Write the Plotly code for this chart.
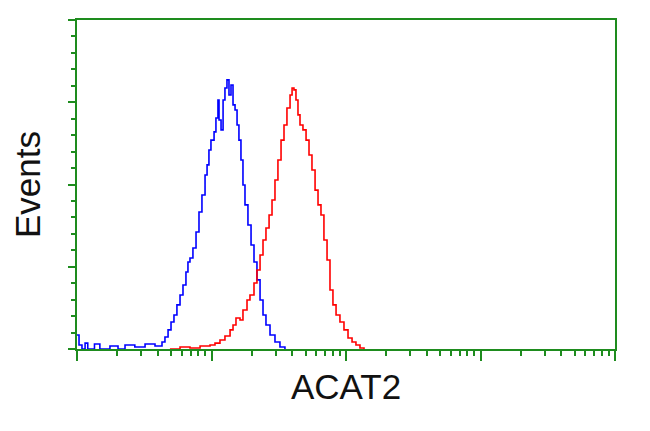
import plotly.graph_objects as go

# intensity in log10 decades, counts per channel
blue_log = [0.00, 0.015, 0.037, 0.06, 0.08, 0.13, 0.17, 0.245, 0.305, 0.357, 0.43, 0.506, 0.58, 0.632,
            0.654, 0.677, 0.699, 0.721, 0.743, 0.766, 0.788, 0.81, 0.825, 0.84, 0.862, 0.885, 0.907,
            0.929, 0.952, 0.967, 0.981, 0.996, 1.019, 1.033, 1.048, 1.056, 1.071, 1.086, 1.1, 1.115,
            1.13, 1.145, 1.16, 1.175, 1.19, 1.204, 1.219, 1.234, 1.249, 1.271, 1.294, 1.316, 1.338,
            1.361, 1.383, 1.405, 1.435, 1.472, 1.509, 1.546]
blue_counts = [8.5, 2.4, 0, 3.6, 0, 3, 0, 1.8, 0, 2.4, 1.2, 3, 1.8, 4.3, 7.3, 11.6, 16.4, 20.7, 26.8,
               32.8, 38.9, 46.8, 52.9, 55.3, 61.4, 71.1, 83.3, 93.6, 105.8, 111.9, 121, 127, 132, 140.4,
               151.4, 139.2, 133.2, 151.4, 158.7, 163.6, 154.4, 160.5, 148.4, 145.3, 136.2, 127, 114.9,
               99.7, 87.6, 75.4, 63.2, 52.9, 42, 29.8, 20.7, 14.6, 8.5, 4.3, 1.2, 0]

red_log = [0.691, 0.766, 0.84, 0.915, 0.989, 1.026, 1.063, 1.1, 1.138, 1.16, 1.182, 1.212, 1.234, 1.264,
           1.286, 1.316, 1.338, 1.361, 1.383, 1.405, 1.428, 1.45, 1.472, 1.494, 1.517, 1.539, 1.561,
           1.584, 1.599, 1.613, 1.628, 1.643, 1.658, 1.68, 1.703, 1.725, 1.747, 1.77, 1.792, 1.814,
           1.836, 1.859, 1.881, 1.903, 1.926, 1.955, 1.985, 2.015, 2.045, 2.074, 2.104, 2.134]
red_counts = [0, 1.2, 0.6, 1.8, 2.4, 3.6, 5.5, 7.9, 11.6, 14.6, 18.8, 17.6, 23.7, 29.8, 32.8, 40.1, 48,
              57.1, 66.3, 73.6, 81.5, 90.6, 102.7, 114.9, 127, 136.2, 146.5, 154.4, 158.7, 157.5, 151.4,
              142.3, 136.2, 133.2, 127, 117.9, 108.8, 96.6, 87.6, 81.5, 66.3, 54.1, 35.9, 26.8, 20.7,
              16.4, 11.6, 6.7, 4.3, 2.4, 0.6, 0]

green = "#1e8c1e"

fig = go.Figure()
fig.add_trace(go.Scatter(x=[10 ** v for v in blue_log], y=blue_counts, mode="lines",
                         line=dict(color="#0000ff", width=1.6, shape="hv")))
fig.add_trace(go.Scatter(x=[10 ** v for v in red_log], y=red_counts, mode="lines",
                         line=dict(color="#ff0000", width=1.6, shape="hv")))

fig.update_layout(
    width=650, height=431,
    margin=dict(l=69, r=43, t=12, b=90, autoexpand=False),
    paper_bgcolor="white", plot_bgcolor="white",
    showlegend=False,
    font=dict(family="Liberation Sans, Arial", color="#111111"),
    xaxis=dict(type="log", range=[0, 4], showgrid=False, zeroline=False,
               showline=True, linecolor=green, linewidth=2, mirror=True,
               ticks="outside", ticklen=10, tickwidth=2, tickcolor=green, dtick=1,
               showticklabels=False, automargin=False,
               minor=dict(ticks="outside", ticklen=5, tickwidth=1.5, tickcolor=green, dtick="D1"),
               title=dict(text="ACAT2", font=dict(size=35), standoff=14)),
    yaxis=dict(range=[0, 200], showgrid=False, zeroline=False,
               showline=True, linecolor=green, linewidth=2, mirror=True,
               ticks="outside", ticklen=7, tickwidth=2, tickcolor=green, dtick=50,
               showticklabels=False, automargin=False,
               minor=dict(ticks="outside", ticklen=4, tickwidth=1.5, tickcolor=green, dtick=10),
               title=dict(text="Events", font=dict(size=35), standoff=20)),
)

fig.write_html("out.html")
